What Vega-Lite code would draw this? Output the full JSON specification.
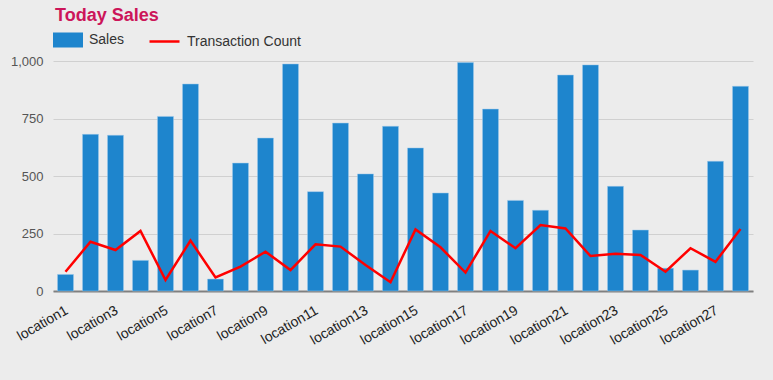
{
  "$schema": "https://vega.github.io/schema/vega-lite/v6.json",
  "width": 700,
  "height": 230,
  "autosize": {"type": "none"},
  "padding": {"left": 53, "top": 61, "right": 20, "bottom": 89},
  "background": "#ececec",
  "title": {"text": "Today Sales", "anchor": "start", "frame": "group", "color": "#cc1559", "fontSize": 18, "font": "Liberation Sans", "fontWeight": "bold", "dx": 2, "dy": 4},
  "config": {"view": {"stroke": null}, "font": "Liberation Sans"},
  "data": {"values": [
    {"location": "location1", "sales": 72, "count": 84},
    {"location": "location2", "sales": 681, "count": 214},
    {"location": "location3", "sales": 677, "count": 178},
    {"location": "location4", "sales": 133, "count": 261},
    {"location": "location5", "sales": 759, "count": 48},
    {"location": "location6", "sales": 900, "count": 219},
    {"location": "location7", "sales": 52, "count": 59},
    {"location": "location8", "sales": 556, "count": 106},
    {"location": "location9", "sales": 665, "count": 171},
    {"location": "location10", "sales": 987, "count": 91},
    {"location": "location11", "sales": 432, "count": 203},
    {"location": "location12", "sales": 730, "count": 193},
    {"location": "location13", "sales": 509, "count": 113},
    {"location": "location14", "sales": 716, "count": 38},
    {"location": "location15", "sales": 622, "count": 268},
    {"location": "location16", "sales": 426, "count": 190},
    {"location": "location17", "sales": 993, "count": 80},
    {"location": "location18", "sales": 791, "count": 261},
    {"location": "location19", "sales": 394, "count": 186},
    {"location": "location20", "sales": 351, "count": 287},
    {"location": "location21", "sales": 939, "count": 272},
    {"location": "location22", "sales": 983, "count": 152},
    {"location": "location23", "sales": 455, "count": 162},
    {"location": "location24", "sales": 265, "count": 157},
    {"location": "location25", "sales": 99, "count": 84},
    {"location": "location26", "sales": 91, "count": 186},
    {"location": "location27", "sales": 564, "count": 127},
    {"location": "location28", "sales": 890, "count": 270}
  ]},
  "encoding": {
    "x": {
      "field": "location", "type": "nominal", "sort": null,
      "scale": {"paddingInner": 0.36, "paddingOuter": 0.18},
      "axis": {
        "title": null, "labelAngle": -30, "labelFontSize": 14, "labelColor": "#222",
        "domainColor": "#808080", "domainWidth": 2, "ticks": false, "labelPadding": 12, "labelOffset": -2,
        "values": ["location1","location3","location5","location7","location9","location11","location13","location15","location17","location19","location21","location23","location25","location27"]
      }
    }
  },
  "layer": [
    {
      "mark": {"type": "bar", "stroke": "#9cc9ea", "strokeWidth": 0.5},
      "encoding": {
        "y": {"field": "sales", "type": "quantitative", "scale": {"domain": [0, 1000], "nice": false},
          "axis": {"title": null, "values": [0, 250, 500, 750, 1000], "format": ",d", "gridColor": "#d0d0d0", "domain": false, "ticks": false, "labelColor": "#555", "labelFontSize": 13, "labelPadding": 10}},
        "fill": {"datum": "Sales", "scale": {"range": ["#1e85cd"]},
          "legend": {"title": null, "orient": "none", "legendX": 0, "legendY": -36, "symbolType": "M-1,-0.5H1V0.5H-1Z", "symbolSize": 900, "symbolStrokeWidth": 0, "labelFontSize": 14, "labelColor": "#333", "labelOffset": 6, "padding": 0}}
      }
    },
    {
      "mark": {"type": "line", "strokeWidth": 2.5},
      "encoding": {
        "y": {"field": "count", "type": "quantitative"},
        "stroke": {"datum": "Transaction Count", "scale": {"range": ["#ff0000"]},
          "legend": {"title": null, "orient": "none", "legendX": 95, "legendY": -36, "symbolType": "stroke", "symbolSize": 900, "symbolStrokeWidth": 2.5, "labelFontSize": 14, "labelColor": "#333", "labelOffset": 6, "padding": 0}}
      }
    }
  ]
}
